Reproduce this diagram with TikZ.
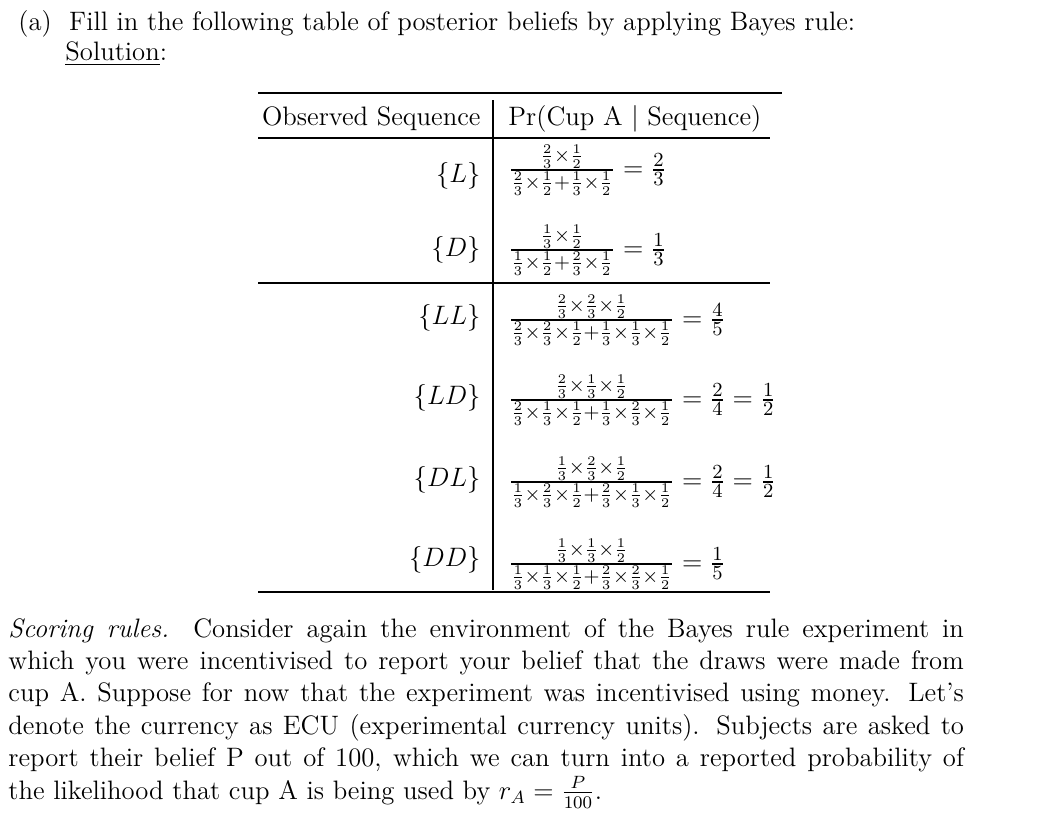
\documentclass[tikz,border=0pt]{standalone}
\usepackage{amsmath}
\begin{document}
\begin{tikzpicture}[x=0.45pt,y=-0.45pt,
  txt/.style={inner sep=0pt,anchor=base west,font=\fontsize{12}{14.5}\selectfont},
  lft/.style={inner sep=0pt,anchor=east,font=\fontsize{12}{14.5}\selectfont},
  mth/.style={inner sep=0pt,anchor=west,font=\fontsize{13}{14.5}\selectfont},
  rule/.style={line width=0.5pt}]
\useasboundingbox (0,0) rectangle (1041,826);
\node[txt] (t1) at (18,30) {(a)\ \ Fill in the following table of posterior beliefs by applying Bayes rule:};
\node[txt] (t2) at (65,60) {\underline{Solution}:};
% table
\coordinate (tl) at (258,93); \coordinate (tr) at (782,93);
\draw[line width=0.8pt] (tl) -- (tr);
\node[txt,anchor=base east] (h1) at (481,125) {Observed Sequence};
\node[txt] (h2) at (508,125) {Pr(Cup A $|$ Sequence)};
\coordinate (hl) at (258,138); \coordinate (hr) at (770,138);
\draw[rule] (hl) -- (hr);
\coordinate (ml) at (258,283); \coordinate (mr) at (770,283);
\draw[rule] (ml) -- (mr);
\coordinate (bl) at (258,592); \coordinate (br) at (770,592);
\draw[line width=0.8pt] (bl) -- (br);
\coordinate (v1) at (493,100); \coordinate (v2) at (493,590);
\draw[rule] (v1) -- (v2);
\node[lft] (r1) at (481,176) {$\{L\}$};
\node[lft] (r2) at (481,250) {$\{D\}$};
\node[lft] (r3) at (481,318) {$\{LL\}$};
\node[lft] (r4) at (481,398) {$\{LD\}$};
\node[lft] (r5) at (481,480) {$\{DL\}$};
\node[lft] (r6) at (481,560) {$\{DD\}$};
\def\h{\frac{1}{2}}\def\a{\frac{1}{3}}\def\b{\frac{2}{3}}
\node[mth] (m1) at (508,170) {$\frac{\b\times\h}{\b\times\h+\a\times\h}=\frac{2}{3}$};
\node[mth] (m2) at (508,250) {$\frac{\a\times\h}{\a\times\h+\b\times\h}=\frac{1}{3}$};
\node[mth] (m3) at (508,320) {$\frac{\b\times\b\times\h}{\b\times\b\times\h+\a\times\a\times\h}=\frac{4}{5}$};
\node[mth] (m4) at (508,400) {$\frac{\b\times\a\times\h}{\b\times\a\times\h+\a\times\b\times\h}=\frac{2}{4}=\frac{1}{2}$};
\node[mth] (m5) at (508,482) {$\frac{\a\times\b\times\h}{\a\times\b\times\h+\b\times\a\times\h}=\frac{2}{4}=\frac{1}{2}$};
\node[mth] (m6) at (508,564) {$\frac{\a\times\a\times\h}{\a\times\a\times\h+\b\times\b\times\h}=\frac{1}{5}$};
% paragraph
\node[txt] (p1) at (8,637) {\hbox to 430pt{\textit{Scoring rules.} Consider again the environment of the Bayes rule experiment in}};
\node[txt] (p2) at (8,669) {\hbox to 430pt{which you were incentivised to report your belief that the draws were made from}};
\node[txt] (p3) at (8,701) {\hbox to 430pt{cup A. Suppose for now that the experiment was incentivised using money. Let's}};
\node[txt] (p4) at (8,734) {\hbox to 430pt{denote the currency as ECU (experimental currency units). Subjects are asked to}};
\node[txt] (p5) at (8,766) {\hbox to 430pt{report their belief P out of 100, which we can turn into a reported probability of}};
\node[txt] (p6) at (8,799) {the likelihood that cup A is being used by $r_A=\frac{P}{100}$.};
\end{tikzpicture}
\end{document}
